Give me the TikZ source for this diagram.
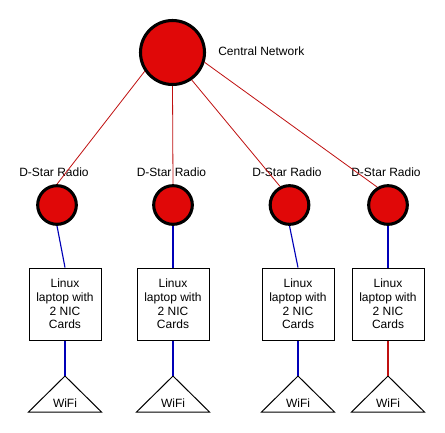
\documentclass[tikz,border=0pt]{standalone}
\usepackage{fontspec}
\setmainfont{Liberation Sans}
\usetikzlibrary{calc}
\begin{document}
\begin{tikzpicture}[x=0.75pt,y=-0.75pt,
  bigdisc/.style={circle,draw=black,line width=2.3pt,fill=netred,minimum size=48pt,inner sep=0pt},
  radio/.style={circle,draw=black,line width=2.3pt,fill=netred,minimum size=29pt,inner sep=0pt},
  laptop/.style={draw=black,line width=0.75pt,minimum width=54pt,minimum height=54pt,inner sep=0pt,align=center,font=\fontsize{9pt}{10.2pt}\selectfont},
  lbl/.style={font=\fontsize{9pt}{10pt}\selectfont,inner sep=0pt},
  redlink/.style={draw=linkred,line width=0.6pt},
  bluelink/.style={draw=linkblue,line width=0.85pt},
  wifitri/.style={draw=black,line width=0.75pt}]
\definecolor{netred}{HTML}{E00808}
\definecolor{linkred}{HTML}{C01010}
\definecolor{linkblue}{HTML}{0000B8}
\useasboundingbox (0,0) rectangle (445,432);
\fill[white] (0,0) rectangle (445,432);
% central
\node[bigdisc] (c) at (172.5,52.5) {};
\node[lbl,anchor=west] (cl) at (218,51) {Central Network};
% radios
\foreach \i/\x in {1/57,2/173,3/289.5,4/388}{
  \node[radio] (r\i) at (\x,205) {};
}
\node[lbl] (rl1) at (54,172) {D-Star Radio};
\node[lbl] (rl2) at (171.5,172) {D-Star Radio};
\node[lbl] (rl3) at (287,172) {D-Star Radio};
\node[lbl] (rl4) at (386,172) {D-Star Radio};
% laptops
\foreach \i/\x in {1/65,2/173,3/298,4/388}{
  \node[laptop] (b\i) at (\x,304) {Linux\\laptop with\\2 NIC\\Cards};
  \coordinate (t\i) at (\x,376);
  \draw[wifitri] (t\i) -- ($(t\i)+(36.5,36)$) -- ($(t\i)+(-36.5,36)$) -- cycle;
  \node[lbl] (w\i) at (\x,403) {WiFi};
}
% red links
\draw[redlink] (c.214) -- (r1.north);
\draw[redlink] (c.south) -- (r2.north);
\draw[redlink] (c.-55) -- (r3.117);
\draw[redlink] (c.-17) -- (r4.121);
% blue links
\foreach \i in {1,2,3,4}{
  \draw[bluelink] (r\i.south) -- (b\i.north);
}
\draw[bluelink] (b1.south) -- (t1);
\draw[bluelink] (b2.south) -- (t2);
\draw[bluelink] (b3.south) -- (t3);
\draw[redlink,line width=0.85pt] (b4.south) -- (t4);
\end{tikzpicture}
\end{document}
